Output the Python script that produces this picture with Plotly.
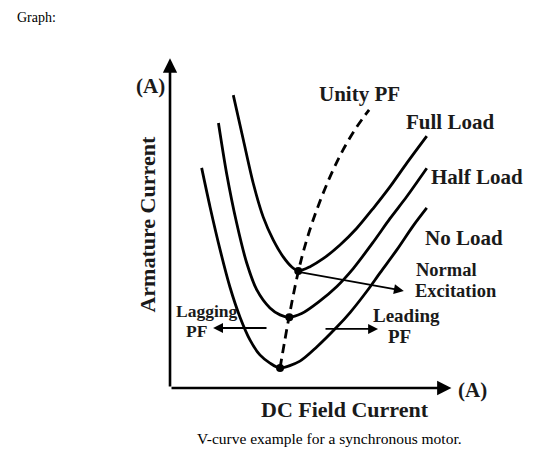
import plotly.graph_objects as go

# V-curves: DC field current (x) vs armature current (y)
full_x = [2.26, 2.62, 2.97, 3.33, 3.69, 4.05, 4.35, 4.58, 5.00, 5.48, 6.07, 6.67, 7.26, 7.86, 8.45, 9.17]
full_y = [8.93, 7.56, 6.25, 5.21, 4.51, 3.99, 3.69, 3.57, 3.70, 3.95, 4.36, 4.87, 5.48, 6.14, 6.85, 7.68]

half_x = [1.73, 2.02, 2.38, 2.74, 3.10, 3.57, 3.93, 4.26, 4.70, 5.30, 5.95, 6.55, 7.26, 7.86, 8.45, 9.17]
half_y = [8.08, 6.55, 5.03, 3.81, 2.99, 2.44, 2.23, 2.16, 2.27, 2.62, 3.09, 3.65, 4.45, 5.17, 5.83, 6.70]

noload_x = [1.13, 1.43, 1.79, 2.14, 2.50, 2.86, 3.21, 3.57, 3.93, 4.64, 5.24, 5.95, 6.43, 7.03, 7.50, 8.10, 8.69, 9.17]
noload_y = [6.71, 5.52, 4.21, 3.08, 2.16, 1.46, 1.01, 0.76, 0.61, 0.82, 1.25, 1.85, 2.30, 2.95, 3.51, 4.21, 4.95, 5.49]

unity_x = [3.93, 4.25, 4.58, 4.88, 5.24, 5.71, 6.18, 6.67, 7.11]
unity_y = [0.61, 2.16, 3.54, 4.51, 5.43, 6.43, 7.26, 7.96, 8.48]

min_x = [4.58, 4.26, 3.93]
min_y = [3.57, 2.16, 0.61]

serif = "Liberation Serif"
ink = "#1a1a1a"

fig = go.Figure()

for xs, ys in [(full_x, full_y), (half_x, half_y), (noload_x, noload_y)]:
    fig.add_trace(go.Scatter(x=xs, y=ys, mode="lines",
                             line=dict(color="black", width=2.8, shape="spline", smoothing=0.8)))

fig.add_trace(go.Scatter(x=unity_x, y=unity_y, mode="lines",
                         line=dict(color="black", width=2.8, dash="9px,6px", shape="spline")))

fig.add_trace(go.Scatter(x=min_x, y=min_y, mode="markers",
                         marker=dict(color="black", size=8)))

# axes drawn as arrows
arrows = [
    dict(x=0, y=10.05, ax=0, ay=0, w=2.6),
    dict(x=10.05, y=0, ax=0, ay=0, w=2.6),
    dict(x=8.35, y=2.96, ax=4.58, ay=3.54, w=1.8),   # normal excitation
    dict(x=1.54, y=1.83, ax=3.50, ay=1.83, w=1.8),   # lagging
    dict(x=7.43, y=1.80, ax=5.50, ay=1.80, w=1.8),   # leading
]
for a in arrows:
    fig.add_annotation(x=a["x"], y=a["y"], ax=a["ax"], ay=a["ay"], xref="x", yref="y",
                       axref="x", ayref="y", showarrow=True, arrowhead=2, arrowsize=1.1,
                       arrowwidth=a["w"], arrowcolor="black", text="")

labels = [
    ("(A)", -0.71, 9.21, 21),
    ("(A)", 10.82, -0.06, 21),
    ("Unity PF", 6.77, 8.96, 21),
    ("Full Load", 10.0, 8.12, 21),
    ("Half Load", 10.98, 6.43, 21),
    ("No Load", 10.5, 4.58, 21),
    ("Normal", 9.86, 3.60, 18.5),
    ("Excitation", 10.23, 2.96, 18.5),
    ("Lagging", 1.32, 2.35, 17.5),
    ("PF", 0.95, 1.75, 17.5),
    ("Leading", 8.45, 2.20, 19),
    ("PF", 8.21, 1.56, 19),
    ("DC Field Current", 6.25, -0.67, 22),
]
for t, x, y, s in labels:
    fig.add_annotation(x=x, y=y, xref="x", yref="y", text="<b>%s</b>" % t, showarrow=False,
                       font=dict(family=serif, size=s, color=ink))

fig.add_annotation(x=-0.79, y=4.98, xref="x", yref="y", text="<b>Armature Current</b>",
                   textangle=-90, showarrow=False, font=dict(family=serif, size=22, color=ink))

fig.add_annotation(x=5.71, y=-1.55, xref="x", yref="y", text="V-curve example for a synchronous motor.",
                   showarrow=False, font=dict(family=serif, size=15.5, color="black"))

fig.add_annotation(x=0.013, y=1.0, xref="paper", yref="paper", xanchor="left", yanchor="top",
                   text="Graph:", showarrow=False, font=dict(family=serif, size=14, color="black"))

# ranges shifted to allow for the page's 8px body margin
fig.update_xaxes(range=[-5.786, 13.464], visible=False)
fig.update_yaxes(range=[-2.591, 11.585], visible=False)
fig.update_layout(width=539, height=465, margin=dict(l=0, r=0, t=0, b=0),
                  showlegend=False, plot_bgcolor="white", paper_bgcolor="white")

fig.write_html("out.html")
